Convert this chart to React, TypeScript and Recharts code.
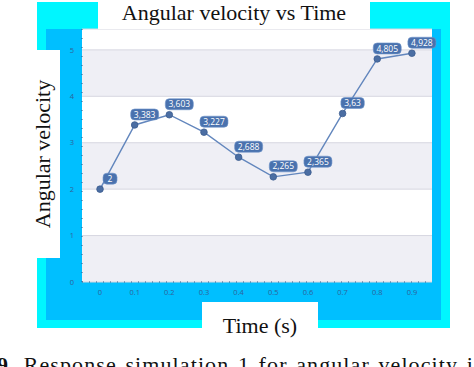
import { LineChart, Line, XAxis, YAxis, CartesianGrid, LabelList } from 'recharts';

// time samples (s) and angular velocity
const TIMES = [0, 0.1, 0.2, 0.3, 0.4, 0.5, 0.6, 0.7, 0.8, 0.9];
const VELOCITY = [2, 3.383, 3.603, 3.227, 2.688, 2.265, 2.365, 3.63, 4.805, 4.928];
const Y_TICKS = [0, 1, 2, 3, 4, 5];
const X_TICKS = [0, 0.1, 0.2, 0.3, 0.4, 0.5, 0.6, 0.7, 0.8, 0.9];

const TITLE = 'Angular velocity vs Time';
const X_LABEL = 'Time (s)';
const Y_LABEL = 'Angular velocity';
const CAPTION_NUM = '9.';
const CAPTION = 'Response simulation 1 for angular velocity in';

const data = TIMES.map((t, i) => ({ t, v: VELOCITY[i] }));

const SERIF = '"Liberation Serif", "DejaVu Serif", serif';
const SANS = '"Open Sans", "Noto Sans", sans-serif';

// rounded value bubble, sits up and right of each point
function ValueTag({ x, y, value }: any) {
  const text = String(value).replace('.', ',');
  const w = Math.max(14, text.length * 4.6 + 5);
  const cx = x + 10;
  const cy = y - 10.5;
  return (
    <g>
      <rect x={cx - w / 2} y={cy - 5.5} width={w} height={11} rx={4} fill="#4a72ae" stroke="#7095cb" strokeWidth={0.6} />
      <text x={cx} y={cy} dy="0.36em" textAnchor="middle" fontSize={8.5} fill="#ffffff" fontFamily={SANS}>
        {text}
      </text>
    </g>
  );
}

const tickStyle = { fontSize: 7.5, fill: '#2f639a', fontFamily: SANS };

export default function App() {
  return (
    <div style={{ position: 'absolute', left: 0, top: 0, width: 474, height: 367, background: '#fff', overflow: 'hidden' }}>
      {/* frame */}
      <div style={{ position: 'absolute', left: 37, top: 2, width: 413, height: 326, background: '#00f6ff' }} />
      <div style={{ position: 'absolute', left: 46, top: 29, width: 395, height: 291, background: '#00bfff' }} />
      <div style={{ position: 'absolute', left: 82, top: 29, width: 350, height: 253, background: '#ffffff' }} />

      <div style={{ position: 'absolute', left: 0, top: 0 }}>
        <LineChart width={474} height={367} data={data} margin={{ top: 29, right: 42, bottom: 65, left: 62 }}>
          <CartesianGrid vertical={false} stroke="#d6d6e0" horizontalFill={['transparent', '#efeff5']} fillOpacity={1} />
          <XAxis
            dataKey="t"
            type="number"
            domain={[-0.052, 0.958]}
            ticks={X_TICKS}
            interval={0}
            height={20}
            tickLine={false}
            axisLine={{ stroke: '#2e5e8e', strokeDasharray: '1 6' }}
            tick={tickStyle}
            allowDataOverflow
          />
          <YAxis
            type="number"
            domain={[0, 5.45]}
            ticks={Y_TICKS}
            interval={0}
            width={20}
            tickLine={false}
            axisLine={{ stroke: '#2e5e8e', strokeDasharray: '1 8' }}
            tick={tickStyle}
            allowDataOverflow
          />
          <Line
            type="linear"
            dataKey="v"
            stroke="#6286bd"
            strokeWidth={1.4}
            dot={{ r: 3.3, fill: '#4b6ea3', stroke: '#3c5d8f', strokeWidth: 0.8 }}
            isAnimationActive={false}
          >
            <LabelList dataKey="v" content={<ValueTag />} />
          </Line>
        </LineChart>
      </div>

      {/* text boxes over the frame */}
      <svg width={474} height={367} style={{ position: 'absolute', left: 0, top: 0, pointerEvents: 'none' }}>
        <rect x={98} y={0} width={272} height={29} fill="#ffffff" />
        <text x={234} y={20} textAnchor="middle" fontSize={22} fontFamily={SERIF} fill="#111">
          {TITLE}
        </text>

        <rect x={27} y={50} width={33} height={208} fill="#ffffff" />
        <text x={50} y={154} transform="rotate(-90 50 154)" textAnchor="middle" fontSize={22} fontFamily={SERIF} fill="#111">
          {Y_LABEL}
        </text>

        <rect x={202} y={302} width={116} height={43} fill="#ffffff" />
        <text x={260} y={333} textAnchor="middle" fontSize={22} fontFamily={SERIF} fill="#111">
          {X_LABEL}
        </text>

        <text x={-3} y={372} fontSize={22} fontFamily={SERIF} fill="#111" letterSpacing={1.1} wordSpacing={2}>
          <tspan fontWeight="bold">{CAPTION_NUM}</tspan>
          <tspan dx={8}>{CAPTION}</tspan>
        </text>
      </svg>
    </div>
  );
}
